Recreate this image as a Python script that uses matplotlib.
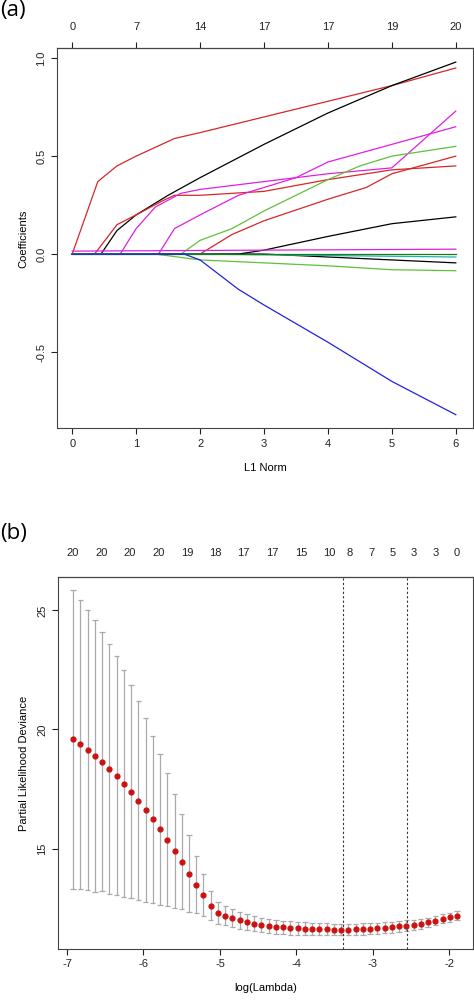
import matplotlib
matplotlib.use("Agg")
import matplotlib.pyplot as plt
import numpy as np

plt.rcParams['font.family'] = ['Liberation Sans', 'DejaVu Sans']
plt.rcParams['axes.unicode_minus'] = False

# ---- Panel (a) data: coefficient paths (L1 norm, coefficient) ----
paths = [
    ("#d62728", [0, 0.4, 0.7, 1, 1.6, 2, 2.5, 3, 4, 5, 6], [0, 0.37, 0.45, 0.5, 0.59, 0.62, 0.66, 0.7, 0.78, 0.86, 0.95]),
    ("#000000", [0, 0.45, 0.7, 1, 1.5, 2, 3, 4, 5, 6], [0, 0, 0.12, 0.2, 0.3, 0.39, 0.56, 0.72, 0.86, 0.98]),
    ("#d62728", [0, 0.35, 0.7, 1, 1.4, 1.6, 2, 2.5, 3, 4, 5, 6], [0, 0, 0.15, 0.2, 0.27, 0.3, 0.3, 0.31, 0.32, 0.38, 0.43, 0.45]),
    ("#e020e0", [0, 0.75, 1, 1.3, 1.7, 2, 3, 4, 5, 6], [0, 0, 0.13, 0.24, 0.31, 0.33, 0.37, 0.41, 0.44, 0.73]),
    ("#e020e0", [0, 1.35, 1.6, 2, 2.6, 3, 3.5, 4, 5, 6], [0, 0, 0.13, 0.2, 0.3, 0.34, 0.39, 0.47, 0.56, 0.65]),
    ("#5fc13a", [0, 1.7, 2, 2.5, 3, 4, 4.5, 5, 6], [0, 0, 0.07, 0.13, 0.22, 0.38, 0.45, 0.5, 0.55]),
    ("#d62728", [0, 2, 2.5, 3, 4, 4.6, 5, 6], [0, 0, 0.1, 0.17, 0.28, 0.34, 0.41, 0.5]),
    ("#000000", [0, 2.6, 3, 4, 5, 6], [0, 0, 0.02, 0.09, 0.155, 0.19]),
    ("#e020e0", [0, 6], [0.015, 0.025]),
    ("#000000", [0, 3, 5, 6], [0, 0, -0.03, -0.045]),
    ("#5fc13a", [0, 1.3, 2, 3, 4, 5, 6], [0, 0, -0.03, -0.045, -0.06, -0.08, -0.085]),
    ("#20b2aa", [0, 2, 6], [0, 0, -0.015]),
    ("#1a7a1a", [0, 6], [0, 0]),
    ("#2222dd", [0, 1.75, 2, 2.6, 3, 4, 5, 6], [0, 0, -0.03, -0.18, -0.26, -0.45, -0.65, -0.82]),
]
top_a_pos = [0, 1, 2, 3, 4, 5, 6]
top_a_lab = ["0", "7", "14", "17", "17", "19", "20"]

# ---- Panel (b) data: CV curve ----
mean_dev = [19.58, 19.37, 19.14, 18.89, 18.65, 18.34, 18.05, 17.73, 17.39, 17.01,
            16.62, 16.22, 15.80, 15.37, 14.91, 14.44, 13.95, 13.48, 13.04, 12.60,
            12.31, 12.18, 12.07, 11.99, 11.91, 11.85, 11.79, 11.75, 11.71, 11.69,
            11.66, 11.65, 11.63, 11.62, 11.61, 11.61, 11.60, 11.60, 11.60,
            11.61, 11.62, 11.64, 11.66, 11.68, 11.70, 11.73, 11.76, 11.80, 11.85,
            11.90, 11.97, 12.05, 12.12, 12.18]
sd_dev = [6.26, 6.07, 5.88, 5.70, 5.45, 5.26, 5.02, 4.77, 4.47, 4.17,
          3.85, 3.51, 3.18, 2.80, 2.40, 1.99, 1.60, 1.20, 0.88, 0.62,
          0.46, 0.40, 0.38, 0.36, 0.34, 0.32, 0.31, 0.30, 0.29, 0.28,
          0.28, 0.27, 0.27, 0.26, 0.26, 0.25, 0.25, 0.25, 0.25,
          0.24, 0.24, 0.24, 0.23, 0.23, 0.23, 0.22, 0.22, 0.21, 0.21,
          0.20, 0.20, 0.19, 0.19, 0.18]
loglam = np.linspace(-6.92, -1.9, len(mean_dev))
top_b_pos = [-6.92, -6.55, -6.18, -5.80, -5.43, -5.06, -4.69, -4.32, -3.94, -3.57, -3.30, -3.02, -2.74, -2.46, -2.18, -1.90]
top_b_lab = ["20", "20", "20", "20", "19", "18", "17", "17", "15", "10", "8", "7", "5", "3", "3", "0"]
vlines = [-3.39, -2.55]

fig = plt.figure(figsize=(4.74, 10.08), dpi=100)
fs = 8

def style(ax):
    for s in ax.spines.values():
        s.set_color("#444444")
    ax.tick_params(labelsize=fs, colors="#222222", length=4)

ax1 = fig.add_axes([0.120, 0.575, 0.878, 0.377])
for c, xs, ys in paths:
    ax1.plot(xs, ys, color=c, lw=0.9)
ax1.set_xlim(-0.24, 6.27)
ax1.set_ylim(-0.89, 1.05)
ax1.set_xticks(range(7))
ax1.set_yticks([-0.5, 0.0, 0.5, 1.0])
ax1.set_yticklabels(["-0.5", "0.0", "0.5", "1.0"], rotation=90, va="center")
ax1.set_xlabel("L1 Norm", fontsize=fs, labelpad=10)
ax1.set_ylabel("Coefficients", fontsize=fs, labelpad=6)
style(ax1)
t1 = ax1.secondary_xaxis('top')
t1.set_xticks(top_a_pos)
t1.set_xticklabels(top_a_lab)
t1.tick_params(labelsize=fs, length=4, pad=8, colors="#222222")
fig.text(0.0, 1.0, "(a)", va="top", ha="left", fontsize=16, family=['Open Sans', 'DejaVu Sans'])

ax2 = fig.add_axes([0.122, 0.0585, 0.876, 0.369])
lower = np.array(mean_dev) - np.array(sd_dev)
upper = np.array(mean_dev) + np.array(sd_dev)
ax2.vlines(loglam, lower, upper, color="#aaaaaa", lw=0.9)
capw = 0.035
ax2.hlines(upper, loglam - capw, loglam + capw, color="#aaaaaa", lw=0.9)
ax2.hlines(lower, loglam - capw, loglam + capw, color="#aaaaaa", lw=0.9)
ax2.scatter(loglam, mean_dev, s=12, color="#cc1111", zorder=3)
for v in vlines:
    ax2.axvline(v, color="#333333", lw=0.8, ls=(0, (2, 2)))
ax2.set_xlim(-7.12, -1.69)
ax2.set_ylim(10.78, 26.4)
ax2.set_xticks([-7, -6, -5, -4, -3, -2])
ax2.set_yticks([15, 20, 25])
ax2.set_yticklabels(["15", "20", "25"], rotation=90, va="center")
ax2.set_xlabel("log(Lambda)", fontsize=fs, labelpad=10)
ax2.set_ylabel("Partial Likelihood Deviance", fontsize=fs, labelpad=6)
style(ax2)
t2 = ax2.secondary_xaxis('top')
t2.set_xticks(top_b_pos)
t2.set_xticklabels(top_b_lab)
t2.tick_params(labelsize=fs, length=0, pad=14, colors="#222222")
fig.text(0.0, 0.481, "(b)", va="top", ha="left", fontsize=16, family=['Open Sans', 'DejaVu Sans'])

fig.savefig("out.png", dpi=100)
